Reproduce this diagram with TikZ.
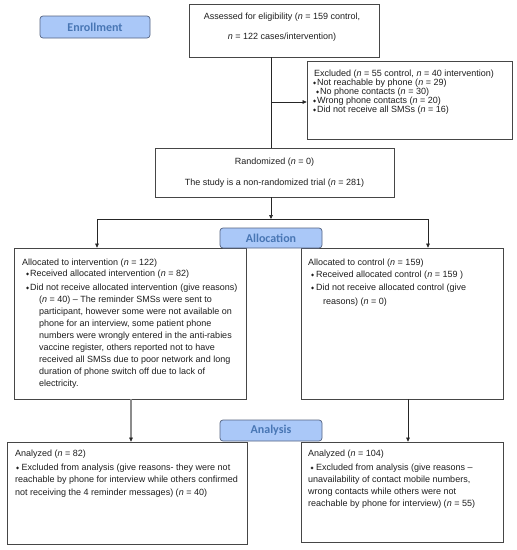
\documentclass[tikz,border=0pt]{standalone}
\usepackage{fontspec}
\setmainfont{Liberation Sans}
\newfontfamily\carlito{Carlito}
\newfontfamily\dejavu{DejaVu Sans}
\usetikzlibrary{arrows.meta}
\definecolor{boxc}{RGB}{70,70,70}
\definecolor{labfill}{RGB}{170,200,248}
\definecolor{labdraw}{RGB}{85,100,130}
\definecolor{labtext}{RGB}{72,118,180}
\definecolor{txtc}{RGB}{30,30,30}
\newcommand\mybul[1][4.5pt]{\makebox[#1][l]{\raisebox{1pt}{\dejavu\fontsize{4}{4}\selectfont ◆}}}
\begin{document}
\begin{tikzpicture}[x=1pt,y=-1pt,
  box/.style={draw=boxc, line width=0.7pt, rectangle, inner sep=0pt, fill=white},
  lab/.style={draw=labdraw, fill=labfill, rounded corners=3pt, line width=0.7pt, text=labtext,
    font=\carlito\bfseries\fontsize{12}{12}\selectfont, inner sep=0pt},
  txt/.style={font=\fontsize{9}{12}\selectfont, text=txtc, align=left, anchor=north west, inner sep=0pt},
  ctxt/.style={font=\fontsize{9}{12}\selectfont, text=txtc, align=center, inner sep=0pt},
  conn/.style={draw=black!85, line width=0.6pt},
  conngray/.style={draw=black!45, line width=1.1pt},
  tip/.style={-{Triangle[length=4pt,width=3.6pt]}}
]
\fill[white] (0,0) rectangle (517,550);
\useasboundingbox (0,0) rectangle (517,550);

% boxes
\node[box, minimum width=190pt, minimum height=53pt] (assess) at (284,30.5) {};
\node[box, minimum width=205pt, minimum height=78pt] (excl) at (409.5,100) {};
\node[box, minimum width=239pt, minimum height=49pt] (rand) at (274.5,172.5) {};
\node[box, minimum width=232pt, minimum height=151pt] (intv) at (130,323.5) {};
\node[box, minimum width=202pt, minimum height=151pt] (ctrl) at (402,323.5) {};
\node[box, minimum width=240pt, minimum height=102pt] (anaL) at (127,493) {};
\node[box, minimum width=202pt, minimum height=100pt] (anaR) at (402,492) {};

% phase labels
\node[lab, minimum width=110pt, minimum height=22pt] (enroll) at (95,27) {Enrollment};
\node[lab, minimum width=102pt, minimum height=20pt] (alloc) at (271,238) {Allocation};
\node[lab, minimum width=102pt, minimum height=21pt] (analysis) at (271,430.5) {Analysis};

% texts
\node[ctxt] (tassess) at (282,27) {Assessed for eligibility (\textit{n} = 159 control,\\[8pt]
\textit{n} = 122 cases/intervention)};
\node[ctxt] (trand) at (274.5,172.5) {Randomized (\textit{n} = 0)\\[9pt]
The study is a non-randomized trial (\textit{n} = 281)};

\node[txt, font=\fontsize{9}{9}\selectfont] (texcl) at (313,69.5) {\hspace*{1pt}Excluded (\textit{n} = 55 control, \textit{n} = 40 intervention)\\
\mybul[4pt]Not reachable by phone (\textit{n} = 29)\\
\hspace*{3pt}\mybul[4pt]No phone contacts (\textit{n} = 30)\\
\mybul[4pt]Wrong phone contacts (\textit{n} = 20)\\
\mybul[4pt]Did not receive all SMSs (\textit{n} = 16)};

\node[txt, font=\fontsize{9}{12.05}\selectfont] (tintv) at (22,258.8) {Allocated to intervention (\textit{n} = 122)\\[-1pt]
\hspace*{4pt}\mybul[4pt]Received allocated intervention (\textit{n} = 82)\\[1.7pt]
\hspace*{4pt}\mybul[4pt]Did not receive allocated intervention (give reasons)\\
\hspace*{17pt}(\textit{n} = 40) – The reminder SMSs were sent to\\
\hspace*{17pt}participant, however some were not available on\\
\hspace*{17pt}phone for an interview, some patient phone\\
\hspace*{17pt}numbers were wrongly entered in the anti-rabies\\
\hspace*{17pt}vaccine register, others reported not to have\\
\hspace*{17pt}received all SMSs due to poor network and long\\
\hspace*{17pt}duration of phone switch off due to lack of\\
\hspace*{17pt}electricity.};

\node[txt, font=\fontsize{9}{13.3}\selectfont] (tctrl) at (308,258.8) {Allocated to control (\textit{n} = 159)\\[-1.3pt]
\hspace*{3pt}\mybul[5pt]Received allocated control (\textit{n} = 159 )\\
\hspace*{3pt}\mybul[5pt]Did not receive allocated control (give\\
\hspace*{15pt}reasons) (\textit{n} = 0)};

\node[txt, font=\fontsize{9}{12.5}\selectfont] (tanaL) at (15,449.8) {Analyzed (\textit{n} = 82)\\[1.5pt]
\hspace*{1pt}\mybul[5.5pt]Excluded from analysis (give reasons- they were not\\[-0.5pt]
reachable by phone for interview while others confirmed\\
not receiving the 4 reminder messages) (\textit{n} = 40)};

\node[txt, font=\fontsize{9}{12.5}\selectfont] (tanaR) at (308,449.8) {Analyzed (\textit{n} = 104)\\[1.5pt]
\hspace*{2.5pt}\mybul[5.5pt]Excluded from analysis (give reasons –\\[-0.5pt]
unavailability of contact mobile numbers,\\[-0.5pt]
wrong contacts while others were not\\[-0.5pt]
reachable by phone for interview) (\textit{n} = 55)};

% connectors
\coordinate (xmain) at (271,0);
\coordinate (branch) at (271,102);
\coordinate (bus) at (271,219);
\coordinate (busL) at (97,219);
\coordinate (busR) at (428,219);
\coordinate (xl) at (131,0);
\coordinate (xr) at (408,0);

\draw[conn] (assess.south -| xmain) -- (rand.north -| xmain);
\draw[conn, tip] (branch) -- (branch -| excl.west);
\draw[conn, tip] (rand.south -| xmain) -- (bus);
\draw[conn] (busL) -- (busR);
\draw[conn, tip] (busL) -- (busL |- intv.north);
\draw[conn, tip] (busR) -- (busR |- ctrl.north);
\draw[conngray] (intv.south -| xl) -- ([yshift=4pt]anaL.north -| xl);
\draw[conn, tip] ([yshift=4pt]anaL.north -| xl) -- (anaL.north -| xl);
\draw[conn, tip] (ctrl.south -| xr) -- (anaR.north -| xr);
\end{tikzpicture}
\end{document}
